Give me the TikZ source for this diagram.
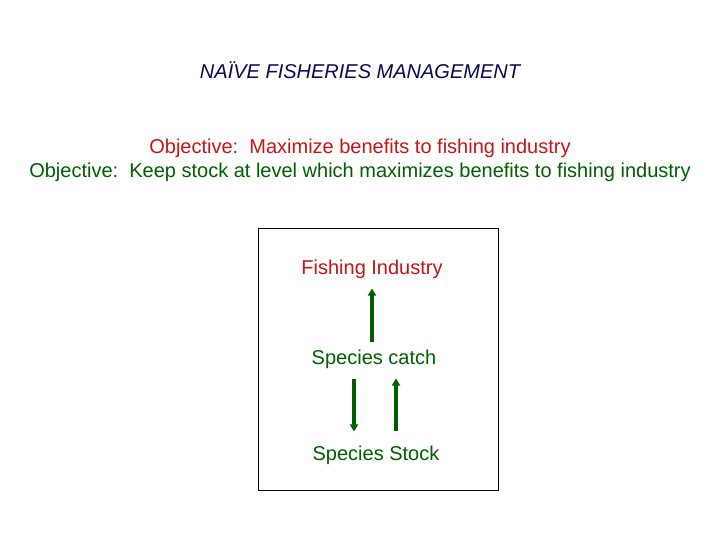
\documentclass[tikz,border=0pt]{standalone}
\usepackage{fontspec}
\setmainfont{Liberation Sans}
\usetikzlibrary{arrows.meta}
\definecolor{navy}{RGB}{10,10,80}
\definecolor{objred}{RGB}{200,20,20}
\definecolor{objgreen}{RGB}{0,95,0}
\tikzset{
  lbl/.style={inner sep=0pt, anchor=center, font=\fontsize{20}{24}\selectfont},
  flow/.style={draw=objgreen, line width=3.5pt, -{Triangle[length=7pt,width=8pt]}},
}
\begin{document}
\begin{tikzpicture}[x=1pt,y=-1pt]
\useasboundingbox[fill=white] (0,0) rectangle (720,540);
\node[lbl, text=navy, font=\fontsize{20}{24}\selectfont\itshape] (title) at (360,70) {NAÏVE FISHERIES MANAGEMENT};
\node[lbl, text=objred] (obj1) at (360,148.5) {Objective:\ \ Maximize benefits to fishing industry};
\node[lbl, text=objgreen] (obj2) at (360,172.5) {Objective:\ \ Keep stock at level which maximizes benefits to fishing industry};
\node[draw=black, line width=0.8pt, minimum width=240, minimum height=262, inner sep=0pt] (frame) at (378,359) {};
\node[lbl, text=objred] (industry) at (372,269.5) {Fishing Industry};
\node[lbl, text=objgreen] (catch) at (374,359.5) {Species catch};
\node[lbl, text=objgreen] (stock) at (376,455.5) {Species Stock};
\draw[flow] ([xshift=-2pt,yshift=7.5pt]catch.north) -- ([yshift=-9.5pt]industry.south);
\draw[flow] ([xshift=-20pt,yshift=-9.5pt]catch.south) -- ([xshift=-22pt,yshift=14.5pt]stock.north);
\draw[flow] ([xshift=20pt,yshift=14.5pt]stock.north) -- ([xshift=22pt,yshift=-9.5pt]catch.south);
\end{tikzpicture}
\end{document}
